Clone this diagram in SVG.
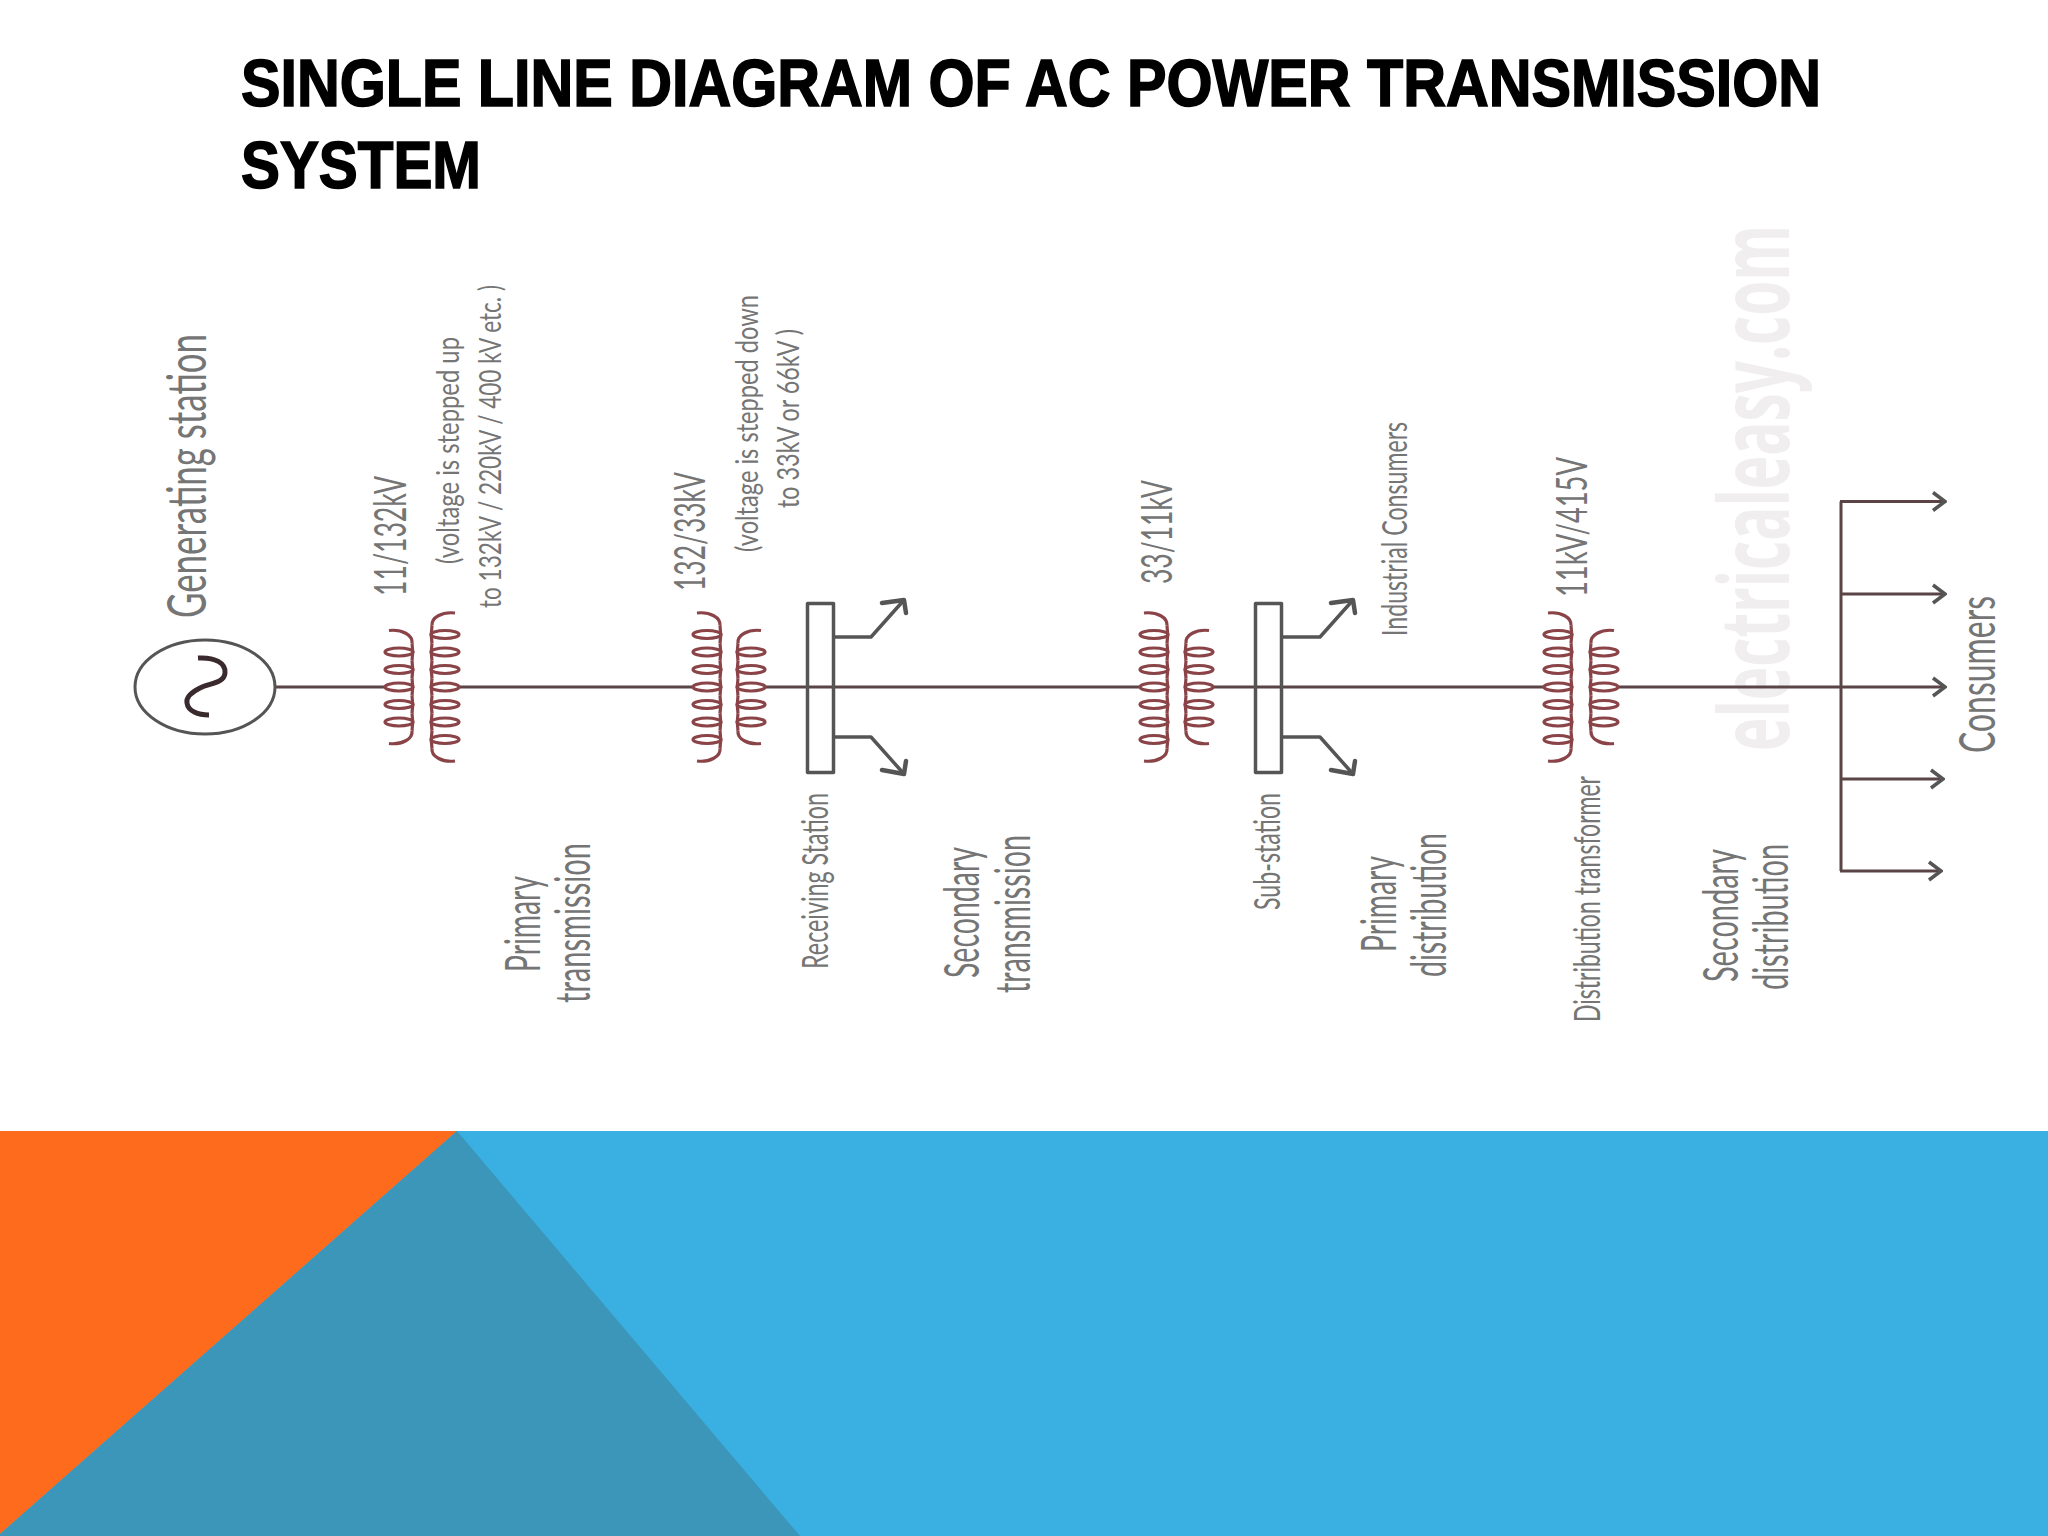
<svg xmlns="http://www.w3.org/2000/svg" xmlns:xlink="http://www.w3.org/1999/xlink" width="2048" height="1536" viewBox="0 0 2048 1536">
<style>
.title{font-family:"Liberation Sans",Arial,sans-serif;font-weight:700;font-size:66px;fill:#000;stroke:#000;stroke-width:1.6}
.lbl{font-family:Lato,"Open Sans","Noto Sans",sans-serif;font-weight:400;fill:#757575}
.wm{font-family:"Open Sans","Noto Sans",sans-serif;font-weight:700;font-size:64px;fill:#f0eeee}
.bus{fill:none;stroke:#5a4446;stroke-width:3}
.gray{fill:none;stroke:#555;stroke-width:3.5;stroke-linejoin:round}
.head{fill:none;stroke:#555;stroke-width:4.5;stroke-linejoin:round;stroke-linecap:round}
.coil{fill:none;stroke:#8a4448;stroke-width:3.2}
</style>
<defs>
<marker id="chev" markerUnits="userSpaceOnUse" markerWidth="16" markerHeight="22" refX="14" refY="11" orient="auto" viewBox="0 0 16 22"><path d="M2,2 L14,11 L2,20" fill="none" stroke="#555" stroke-width="3.5"/></marker>
<g id="loop"><ellipse cx="-13" cy="0" rx="14" ry="4"/><path d="M0,-8.75 Q1.500,0 0,8.75"/></g>
<g id="coil5" class="coil">
<path d="M-23,-56.500 C-10,-58 1,-52 0,-43.700 M-23,56.500 C-10,58 1,52 0,43.700"/>
<use xlink:href="#loop" href="#loop" y="-35"/><use xlink:href="#loop" href="#loop" y="-17.500"/><use xlink:href="#loop" href="#loop"/><use xlink:href="#loop" href="#loop" y="17.500"/><use xlink:href="#loop" href="#loop" y="35"/>
</g>
<g id="coil7" class="coil">
<path d="M-23,-74 C-10,-75.500 1,-69.500 0,-61.200 M-23,74 C-10,75.500 1,69.500 0,61.200"/>
<use xlink:href="#loop" href="#loop" y="-52.500"/><use xlink:href="#loop" href="#loop" y="-35"/><use xlink:href="#loop" href="#loop" y="-17.500"/><use xlink:href="#loop" href="#loop"/><use xlink:href="#loop" href="#loop" y="17.500"/><use xlink:href="#loop" href="#loop" y="35"/><use xlink:href="#loop" href="#loop" y="52.500"/>
</g>
</defs>
<rect width="2048" height="1536" fill="#fff"/>
<g id="background">
<rect x="0" y="1131" width="2048" height="405" fill="#3ab0e2"/>
<polygon points="0,1131 457,1131 0,1534" fill="#ff6b1c"/>
<polygon points="457,1131 800,1536 0,1536 0,1534" fill="#3c96b9"/>
</g>
<g id="title">
<text class="title" x="241" y="106" textLength="1580" lengthAdjust="spacingAndGlyphs">SINGLE LINE DIAGRAM OF AC POWER TRANSMISSION</text>
<text class="title" x="241" y="188" textLength="240" lengthAdjust="spacingAndGlyphs">SYSTEM</text>
</g>
<g id="watermark"><text class="wm" transform="translate(1789,751) rotate(-90) scale(1,1.5)" textLength="526" lengthAdjust="spacingAndGlyphs">electricaleasy.com</text></g>
<g id="connectors">
<path class="bus" d="M275,687 H385 M458,687 H692 M765,687 H1139 M1213,687 H1545 M1617,687 H1841"/>
<path class="bus" d="M1841,687 H1945" marker-end="url(#chev)"/>
<path class="bus" d="M1841,501.500 V871"/>
<path class="bus" d="M1840,501.500 H1945" marker-end="url(#chev)"/>
<path class="bus" d="M1841,594 H1945" marker-end="url(#chev)"/>
<path class="bus" d="M1841,779 H1943" marker-end="url(#chev)"/>
<path class="bus" d="M1840,871 H1941" marker-end="url(#chev)"/>
<path class="gray" d="M834,637 H871 L904,600 M834,737 H871 L904,774"/>
<path class="head" d="M882,603 L904,600 L906,613 M882,770 L904,774 L906,761"/>
<path class="gray" d="M1282,637 H1320 L1353,600 M1282,737 H1320 L1353,774"/>
<path class="head" d="M1331,603 L1353,600 L1355,613 M1331,770 L1353,774 L1355,761"/>
</g>
<g id="generating-station">
<ellipse cx="205" cy="687" rx="70" ry="47" fill="none" stroke="#555" stroke-width="3"/>
<path d="M198,658 C215,657 226,663 225,673 C224,684 208,683 200,688 C190,693 186,698 187,703 C188,711 198,715 209,715" fill="none" stroke="#3a2a2e" stroke-width="5"/>
<text class="lbl" font-size="36" transform="translate(206,618) rotate(-90) scale(1,1.5)" textLength="284" lengthAdjust="spacingAndGlyphs">Generating station</text>
</g>
<g id="step-up-transformer">
<use xlink:href="#coil5" href="#coil5" x="412" y="687"/>
<use xlink:href="#coil7" href="#coil7" transform="translate(432,687) scale(-1,1)"/>
<text class="lbl" font-size="29" transform="translate(406,596) rotate(-90) scale(1,1.5)" textLength="120" lengthAdjust="spacingAndGlyphs">11/132kV</text>
<text class="lbl" font-size="20" transform="translate(459,564) rotate(-90) scale(1,1.5)" textLength="227" lengthAdjust="spacingAndGlyphs">(voltage is stepped up</text>
<text class="lbl" font-size="20" transform="translate(501,608) rotate(-90) scale(1,1.5)" textLength="323" lengthAdjust="spacingAndGlyphs">to 132kV / 220kV / 400 kV etc. )</text>
</g>
<g id="primary-transmission">
<text class="lbl" font-size="32" transform="translate(540,972) rotate(-90) scale(1,1.5)" textLength="96" lengthAdjust="spacingAndGlyphs">Primary</text>
<text class="lbl" font-size="32" transform="translate(590,1003) rotate(-90) scale(1,1.5)" textLength="160" lengthAdjust="spacingAndGlyphs">transmission</text>
</g>
<g id="step-down-transformer">
<use xlink:href="#coil7" href="#coil7" x="720" y="687"/>
<use xlink:href="#coil5" href="#coil5" transform="translate(738,687) scale(-1,1)"/>
<text class="lbl" font-size="28" transform="translate(705,591) rotate(-90) scale(1,1.5)" textLength="119" lengthAdjust="spacingAndGlyphs">132/33kV</text>
<text class="lbl" font-size="20" transform="translate(758,552) rotate(-90) scale(1,1.5)" textLength="257" lengthAdjust="spacingAndGlyphs">(voltage is stepped down</text>
<text class="lbl" font-size="20" transform="translate(799,508) rotate(-90) scale(1,1.5)" textLength="179" lengthAdjust="spacingAndGlyphs">to 33kV or 66kV )</text>
</g>
<g id="receiving-station">
<rect class="gray" x="807.500" y="603.500" width="26" height="169"/>
<text class="lbl" font-size="24" transform="translate(828,969) rotate(-90) scale(1,1.5)" textLength="176" lengthAdjust="spacingAndGlyphs">Receiving Station</text>
</g>
<g id="secondary-transmission">
<text class="lbl" font-size="32" transform="translate(979,978) rotate(-90) scale(1,1.5)" textLength="131" lengthAdjust="spacingAndGlyphs">Secondary</text>
<text class="lbl" font-size="32" transform="translate(1030,993) rotate(-90) scale(1,1.5)" textLength="158" lengthAdjust="spacingAndGlyphs">transmission</text>
</g>
<g id="transformer-33-11">
<use xlink:href="#coil7" href="#coil7" x="1167" y="687"/>
<use xlink:href="#coil5" href="#coil5" transform="translate(1186,687) scale(-1,1)"/>
<text class="lbl" font-size="28" transform="translate(1172,584) rotate(-90) scale(1,1.5)" textLength="104" lengthAdjust="spacingAndGlyphs">33/11kV</text>
</g>
<g id="sub-station">
<rect class="gray" x="1255.500" y="603.500" width="26" height="169"/>
<text class="lbl" font-size="24" transform="translate(1280,910) rotate(-90) scale(1,1.5)" textLength="117" lengthAdjust="spacingAndGlyphs">Sub-station</text>
</g>
<g id="industrial-consumers">
<text class="lbl" font-size="23" transform="translate(1407,636) rotate(-90) scale(1,1.5)" textLength="214" lengthAdjust="spacingAndGlyphs">Industrial Consumers</text>
</g>
<g id="primary-distribution">
<text class="lbl" font-size="32" transform="translate(1396,952) rotate(-90) scale(1,1.5)" textLength="96" lengthAdjust="spacingAndGlyphs">Primary</text>
<text class="lbl" font-size="32" transform="translate(1446,977) rotate(-90) scale(1,1.5)" textLength="144" lengthAdjust="spacingAndGlyphs">distribution</text>
</g>
<g id="distribution-transformer">
<use xlink:href="#coil7" href="#coil7" x="1571" y="687"/>
<use xlink:href="#coil5" href="#coil5" transform="translate(1591,687) scale(-1,1)"/>
<text class="lbl" font-size="28" transform="translate(1587,597) rotate(-90) scale(1,1.5)" textLength="140" lengthAdjust="spacingAndGlyphs">11kV/415V</text>
<text class="lbl" font-size="24" transform="translate(1600,1022) rotate(-90) scale(1,1.5)" textLength="246" lengthAdjust="spacingAndGlyphs">Distribution transformer</text>
</g>
<g id="secondary-distribution">
<text class="lbl" font-size="32" transform="translate(1738,982) rotate(-90) scale(1,1.5)" textLength="133" lengthAdjust="spacingAndGlyphs">Secondary</text>
<text class="lbl" font-size="32" transform="translate(1788,990) rotate(-90) scale(1,1.5)" textLength="146" lengthAdjust="spacingAndGlyphs">distribution</text>
</g>
<g id="consumers">
<text class="lbl" font-size="33" transform="translate(1995,753) rotate(-90) scale(1,1.5)" textLength="157" lengthAdjust="spacingAndGlyphs">Consumers</text>
</g>
</svg>
